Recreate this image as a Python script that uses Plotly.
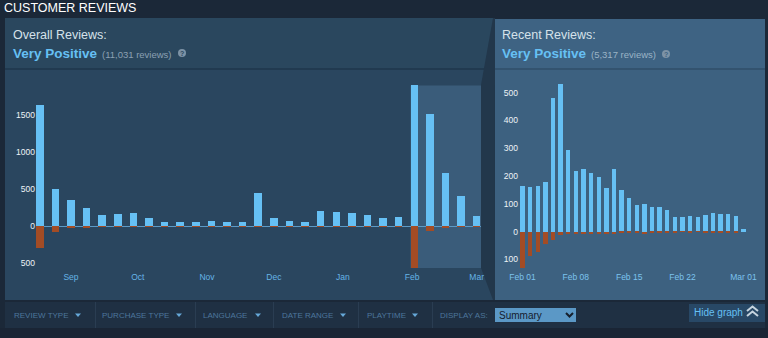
import plotly.graph_objects as go
import pandas as pd

# ---------------- data ----------------
overall_weeks = ['2023-08-18', '2023-08-25', '2023-09-01', '2023-09-08', '2023-09-15',
                 '2023-09-22', '2023-09-29', '2023-10-06', '2023-10-13', '2023-10-20',
                 '2023-10-27', '2023-11-03', '2023-11-10', '2023-11-17', '2023-11-24',
                 '2023-12-01', '2023-12-08', '2023-12-15', '2023-12-22', '2023-12-29',
                 '2024-01-05', '2024-01-12', '2024-01-19', '2024-01-26', '2024-02-02',
                 '2024-02-09', '2024-02-16', '2024-02-23', '2024-03-01']
overall_pos = [1635, 496, 347, 239, 153, 166, 180, 104, 58, 60,
               55, 72, 50, 58, 450, 104, 68, 58, 198, 194,
               176, 144, 113, 122, 1900, 1512, 716, 405, 131]
overall_neg = [-301, -85, -23, -15, -5, -3, -5, -2, -2, -2,
               -2, -2, -2, -2, -5, -2, -2, -2, -3, -3,
               -3, -2, -2, -2, -567, -68, -30, -10, -5]

recent_days = ['2024-02-01', '2024-02-02', '2024-02-03', '2024-02-04', '2024-02-05',
               '2024-02-06', '2024-02-07', '2024-02-08', '2024-02-09', '2024-02-10',
               '2024-02-11', '2024-02-12', '2024-02-13', '2024-02-14', '2024-02-15',
               '2024-02-16', '2024-02-17', '2024-02-18', '2024-02-19', '2024-02-20',
               '2024-02-21', '2024-02-22', '2024-02-23', '2024-02-24', '2024-02-25',
               '2024-02-26', '2024-02-27', '2024-02-28', '2024-02-29', '2024-03-01']
recent_pos = [164, 162, 164, 177, 482, 530, 293, 218, 225, 211,
              195, 156, 225, 150, 123, 95, 98, 90, 88, 77,
              54, 54, 55, 53, 61, 68, 64, 65, 56, 11]
recent_neg = [-132, -86, -72, -44, -30, -12, -10, -10, -8, -10,
              -8, -8, -8, -6, -4, -2, -8, -5, -2, -2,
              -2, -1, -2, -1, -2, -2, -2, -2, -2, 0]

month_ticks = ['2023-09-01', '2023-10-01', '2023-11-01', '2023-12-01',
               '2024-01-01', '2024-02-01', '2024-03-01']
month_labels = ['Sep', 'Oct', 'Nov', 'Dec', 'Jan', 'Feb', 'Mar']
recent_ticks = ['2024-02-01', '2024-02-08', '2024-02-15', '2024-02-22', '2024-03-01']
recent_labels = ['Feb 01', 'Feb 08', 'Feb 15', 'Feb 22', 'Mar 01']
overall_yticks = [-500, 0, 500, 1000, 1500]
overall_ytext = ['500', '0', '500', '1000', '1500']
recent_yticks = [-100, 0, 100, 200, 300, 400, 500]
recent_ytext = ['100', '0', '100', '200', '300', '400', '500']

# ---------------- styling ----------------
W, H = 768, 338
def X(p): return p / W
def Y(p): return 1 - p / H

FONT = 'Liberation Sans, Arial, sans-serif'
POS = '#66c0f4'
NEG = '#a34c25'
PAGE = '#1b2838'
DAY = 86400000

k1 = 2.229
anchor1 = pd.Timestamp('2023-09-01')
L1, R1 = 36, 481
x1_start = anchor1 - pd.Timedelta(days=(71 - L1) / k1)
x1_end = anchor1 + pd.Timedelta(days=(R1 - 71) / k1)

k2 = 7.62
anchor2 = pd.Timestamp('2024-02-01')
L2, R2 = 519, 761
x2_start = anchor2 - pd.Timedelta(days=(522.5 - L2) / k2)
x2_end = anchor2 + pd.Timedelta(days=(R2 - 522.5) / k2)

w1 = 7.5 / k1 * DAY
w2 = 4.4 / k2 * DAY

fig = go.Figure()
fig.add_bar(x=overall_weeks, y=overall_pos, width=w1, marker=dict(color=POS, line_width=0),
            xaxis='x', yaxis='y', hoverinfo='skip')
fig.add_bar(x=overall_weeks, y=overall_neg, width=w1, marker=dict(color=NEG, line_width=0),
            xaxis='x', yaxis='y', hoverinfo='skip')
fig.add_bar(x=recent_days, y=recent_pos, width=w2, marker=dict(color=POS, line_width=0),
            xaxis='x2', yaxis='y2', hoverinfo='skip')
fig.add_bar(x=recent_days, y=recent_neg, width=w2, marker=dict(color=NEG, line_width=0),
            xaxis='x2', yaxis='y2', hoverinfo='skip')

shapes = []
def rect(x0, y0, x1, y1, color):
    shapes.append(dict(type='rect', xref='paper', yref='paper', x0=X(x0), x1=X(x1),
                       y0=Y(y1), y1=Y(y0), fillcolor=color, line_width=0, layer='below'))

def path(pts, fill=None, line=None, lw=0, closed=True):
    d = 'M ' + ' L '.join(f'{X(a):.5f},{Y(b):.5f}' for a, b in pts) + (' Z' if closed else '')
    s = dict(type='path', xref='paper', yref='paper', path=d, layer='below')
    if fill:
        s['fillcolor'] = fill
    if line:
        s['line'] = dict(color=line, width=lw)
    else:
        s['line'] = dict(width=0)
    shapes.append(s)

# panels
rect(5, 18, 493, 68, '#2a475e')
rect(5, 68, 493, 70, '#213a50')
rect(5, 70, 493, 300, '#2a465f')
rect(495, 19, 765, 68, '#3e6383')
rect(495, 68, 765, 70, '#33536f')
rect(495, 70, 765, 300, '#3d6180')
# connector wedge
path([(493, 18), (481, 85), (481, 268), (493, 300), (495, 300), (495, 18)], fill='#22374b')
# highlight of recent period (data driven)
feb_start = pd.Timestamp(overall_weeks[24]) - pd.Timedelta(milliseconds=w1 / 2)
shapes.append(dict(type='rect', xref='x', yref='y', x0=feb_start, x1=x1_end,
                   y0=min(overall_neg), y1=max(overall_pos),
                   fillcolor='#3a5c7a', line_width=0, layer='below'))
# filter row
rect(5, 302, 765, 328, '#1f3043')
rect(0, 328, 768, 338, '#1a2535')
for sx in [95, 195, 273, 358, 432]:
    rect(sx, 302, sx + 1, 328, '#2a3d52')
for tx in [78, 179, 258, 343, 415]:
    path([(tx - 3, 313.5), (tx + 3, 313.5), (tx, 317)], fill='#66a8d8')
# summary dropdown
rect(495, 308, 576, 322, '#5b98c6')
path([(566, 313), (569.5, 316.5), (573, 313)], line='#16202d', lw=2, closed=False)
# hide graph button
rect(689, 304, 765, 322, '#284866')
path([(747, 311), (752.5, 306.5), (758, 311)], line='#c6d4df', lw=2, closed=False)
path([(747, 316), (752.5, 311.5), (758, 316)], line='#c6d4df', lw=2, closed=False)
# question icons
for cx, cy in [(182, 53), (666, 54)]:
    shapes.append(dict(type='circle', xref='paper', yref='paper', x0=X(cx - 4), x1=X(cx + 4),
                       y0=Y(cy + 4), y1=Y(cy - 4), fillcolor='#7d93a6', line_width=0, layer='below'))

ann = []
def text(x, y, s, size, color, bold=False, anchor='left'):
    if bold:
        s = f'<b>{s}</b>'
    ann.append(dict(x=X(x), y=Y(y), xref='paper', yref='paper', text=s, showarrow=False,
                    xanchor=anchor, yanchor='middle', borderpad=0, borderwidth=0,
                    font=dict(family=FONT, size=size, color=color)))

text(4, 8, 'CUSTOMER REVIEWS', 12.5, '#ffffff')
text(13, 35, 'Overall Reviews:', 12.5, '#d6e2ea')
text(13, 53, 'Very Positive', 13.5, POS, bold=True)
text(102, 54, '(11,031 reviews)', 9.5, '#8aa0b3')
text(502, 35, 'Recent Reviews:', 12.5, '#d6e2ea')
text(502, 53, 'Very Positive', 13.5, POS, bold=True)
text(591, 54, '(5,317 reviews)', 9.5, '#9ab3c6')
text(182, 53, '?', 7, '#2a475e', bold=True, anchor='center')
text(666, 54, '?', 7, '#3e6383', bold=True, anchor='center')

for lx, s in [(14, 'REVIEW TYPE'), (102, 'PURCHASE TYPE'), (203, 'LANGUAGE'),
              (282, 'DATE RANGE'), (367, 'PLAYTIME'), (440, 'DISPLAY AS:')]:
    text(lx, 315, s, 8, '#4d769c')
text(499, 315, 'Summary', 10, '#16202d')
text(694, 312.5, 'Hide graph', 10, POS)

fig.update_layout(
    width=W, height=H, margin=dict(l=0, r=0, t=0, b=0, pad=0, autoexpand=False),
    paper_bgcolor=PAGE, plot_bgcolor='rgba(0,0,0,0)',
    barmode='overlay', showlegend=False, bargap=0,
    shapes=shapes, annotations=ann,
    font=dict(family=FONT),
    xaxis=dict(domain=[X(L1), X(R1)], anchor='y', type='date', automargin=False,
               range=[x1_start, x1_end], showgrid=False, zeroline=False,
               tickvals=month_ticks, ticktext=month_labels, ticks='',
               tickfont=dict(size=8.5, color='#66b4e6'), fixedrange=True),
    yaxis=dict(domain=[Y(270), Y(78)], anchor='x', range=[-594.6, 2000], automargin=False,
               showgrid=False, zeroline=True, zerolinecolor='#5c9ac6', zerolinewidth=1,
               tickvals=overall_yticks, ticktext=overall_ytext, ticks='',
               tickfont=dict(size=8.5, color='#eef3f6'), fixedrange=True),
    xaxis2=dict(domain=[X(L2), X(R2)], anchor='y2', type='date', automargin=False,
                range=[x2_start, x2_end], showgrid=False, zeroline=False,
                tickvals=recent_ticks, ticktext=recent_labels, ticks='',
                tickfont=dict(size=8.5, color='#7cc3ee'), fixedrange=True),
    yaxis2=dict(domain=[Y(270), Y(82)], anchor='x2', range=[-137.8, 538.5], automargin=False,
                showgrid=False, zeroline=False,
                tickvals=recent_yticks, ticktext=recent_ytext, ticks='',
                tickfont=dict(size=8.5, color='#eef3f6'), fixedrange=True),
)

fig.write_html('out.html')
